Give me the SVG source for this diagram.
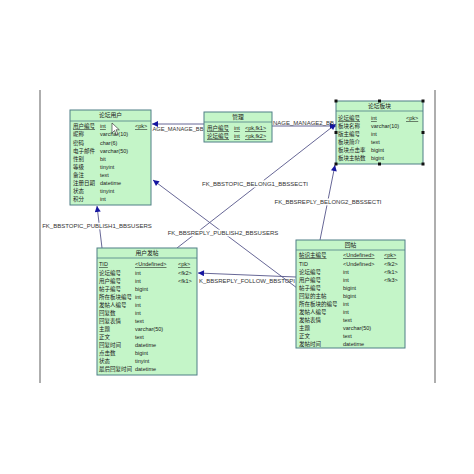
<svg xmlns="http://www.w3.org/2000/svg" width="474" height="474" viewBox="0 0 474 474">
<defs>
<marker id="arr" viewBox="0 0 10 10" refX="10" refY="5" markerWidth="8" markerHeight="6" markerUnits="userSpaceOnUse" orient="auto">
<path d="M0,0 L10,5 L0,10 Z" fill="#1515a0"/>
</marker>
</defs>
<style>
.frame{stroke:#9a9a9a;stroke-width:1.6}
.tbl{fill:#c4f5c8;stroke:#4f7f86;stroke-width:1}
.sep{stroke:#4f7f86;stroke-width:0.8}
.t{font-family:"Liberation Sans","Noto Sans CJK SC",sans-serif;font-size:5.5px;fill:#1a1a1a}
.h{font-family:"Liberation Sans","Noto Sans CJK SC",sans-serif;font-size:5.8px;fill:#1a1a1a;text-anchor:middle}
.u{text-decoration:underline}
.ln{stroke:#56568a;stroke-width:0.9;fill:none}
.lb{font-family:"Liberation Sans",sans-serif;font-size:6px;fill:#333;text-anchor:middle;paint-order:stroke;stroke:#fff;stroke-width:2.5px}
.ls{font-family:"Liberation Sans",sans-serif;font-size:6px;fill:#333}
.hd{fill:#111}
</style>
<rect width="474" height="474" fill="#fff"/>
<line class="frame" x1="40" y1="90" x2="40" y2="383"/>
<line class="frame" x1="435" y1="90" x2="435" y2="383"/>
<g id="connectors">
<line class="ln" x1="204" y1="124" x2="152" y2="124" marker-end="url(#arr)"/>
<text class="ls" x="152.5" y="131" textLength="51" lengthAdjust="spacingAndGlyphs">AGE_MANAGE_BB</text>
<line class="ln" x1="272" y1="126" x2="336" y2="126" marker-end="url(#arr)"/>
<text class="ls" x="273" y="125" textLength="61" lengthAdjust="spacingAndGlyphs">NAGE_MANAGE2_BB</text>
<line class="ln" x1="177" y1="248" x2="336" y2="124" marker-end="url(#arr)"/>
<line class="ln" x1="320" y1="240" x2="335" y2="165" marker-end="url(#arr)"/>
<line class="ln" x1="297" y1="288" x2="153" y2="180" marker-end="url(#arr)"/>
<line class="ln" x1="102" y1="248" x2="97" y2="206" marker-end="url(#arr)"/>
<line class="ln" x1="296" y1="277" x2="198" y2="273" marker-end="url(#arr)"/>
<text class="lb" x="255" y="186">FK_BBSTOPIC_BELONG1_BBSSECTI</text>
<text class="lb" x="328" y="204">FK_BBSREPLY_BELONG2_BBSSECTI</text>
<text class="lb" x="223" y="235">FK_BBSREPLY_PUBLISH2_BBSUSERS</text>
<text class="lb" x="97" y="228">FK_BBSTOPIC_PUBLISH1_BBSUSERS</text>
<text class="ls" x="199" y="283" textLength="96" lengthAdjust="spacingAndGlyphs">K_BBSREPLY_FOLLOW_BBSTOPI</text>
</g>
<g id="users">
<rect class="tbl" x="70" y="110" width="81" height="95"/>
<line class="sep" x1="70" y1="121" x2="151" y2="121"/>
<text class="h" x="110.5" y="117">论坛用户</text>
<text class="t u" x="73" y="128">用户编号</text><text class="t u" x="100" y="128">int</text><text class="t u" x="135" y="128">&lt;pk&gt;</text>
<text class="t" x="73" y="136">昵称</text><text class="t" x="100" y="136">varchar(10)</text>
<text class="t" x="73" y="144.5">密码</text><text class="t" x="100" y="144.5">char(6)</text>
<text class="t" x="73" y="152.5">电子邮件</text><text class="t" x="100" y="152.5">varchar(50)</text>
<text class="t" x="73" y="160.5">性别</text><text class="t" x="100" y="160.5">bit</text>
<text class="t" x="73" y="168.5">等级</text><text class="t" x="100" y="168.5">tinyint</text>
<text class="t" x="73" y="176.5">备注</text><text class="t" x="100" y="176.5">text</text>
<text class="t" x="73" y="184.5">注册日期</text><text class="t" x="100" y="184.5">datetime</text>
<text class="t" x="73" y="192.5">状态</text><text class="t" x="100" y="192.5">tinyint</text>
<text class="t" x="73" y="200.5">积分</text><text class="t" x="100" y="200.5">int</text>
</g>
<g id="manage">
<rect class="tbl" x="204" y="112" width="68" height="30"/>
<line class="sep" x1="204" y1="122" x2="272" y2="122"/>
<text class="h" x="238" y="119">管理</text>
<text class="t u" x="207" y="130">用户编号</text><text class="t u" x="234" y="130">int</text><text class="t u" x="245" y="130">&lt;pk,fk1&gt;</text>
<text class="t u" x="207" y="138">论坛编号</text><text class="t u" x="234" y="138">int</text><text class="t u" x="245" y="138">&lt;pk,fk2&gt;</text>
</g>
<g id="sections">
<rect class="tbl" x="336" y="101" width="87" height="63"/>
<line class="sep" x1="336" y1="111" x2="423" y2="111"/>
<text class="h" x="379.5" y="108">论坛板块</text>
<text class="t u" x="338" y="120">论坛编号</text><text class="t u" x="371" y="120">int</text><text class="t u" x="406" y="120">&lt;pk&gt;</text>
<text class="t" x="338" y="128">板块名称</text><text class="t" x="371" y="128">varchar(10)</text>
<text class="t" x="338" y="135.5">版主编号</text><text class="t" x="371" y="135.5">int</text>
<text class="t" x="338" y="143.5">板块简介</text><text class="t" x="371" y="143.5">text</text>
<text class="t" x="338" y="151.5">板块点击率</text><text class="t" x="371" y="151.5">bigint</text>
<text class="t" x="338" y="159.5">板块主帖数</text><text class="t" x="371" y="159.5">bigint</text>
<rect class="hd" x="334.5" y="99.5" width="3" height="3"/>
<rect class="hd" x="378" y="99.5" width="3" height="3"/>
<rect class="hd" x="421.5" y="99.5" width="3" height="3"/>
<rect class="hd" x="334.5" y="131" width="3" height="3"/>
<rect class="hd" x="421.5" y="131" width="3" height="3"/>
<rect class="hd" x="334.5" y="162.5" width="3" height="3"/>
<rect class="hd" x="378" y="162.5" width="3" height="3"/>
<rect class="hd" x="421.5" y="162.5" width="3" height="3"/>
</g>
<g id="topics">
<rect class="tbl" x="97" y="248" width="100" height="127"/>
<line class="sep" x1="97" y1="258" x2="197" y2="258"/>
<text class="h" x="147" y="255">用户发帖</text>
<text class="t u" x="99" y="266">TID</text><text class="t u" x="135" y="266">&lt;Undefined&gt;</text><text class="t u" x="178" y="266">&lt;pk&gt;</text>
<text class="t" x="99" y="274.5">论坛编号</text><text class="t" x="135" y="274.5">int</text><text class="t" x="178" y="274.5">&lt;fk2&gt;</text>
<text class="t" x="99" y="282.5">用户编号</text><text class="t" x="135" y="282.5">int</text><text class="t" x="178" y="282.5">&lt;fk1&gt;</text>
<text class="t" x="99" y="290.5">帖子编号</text><text class="t" x="135" y="290.5">bigint</text>
<text class="t" x="99" y="298.5">所在板块编号</text><text class="t" x="135" y="298.5">int</text>
<text class="t" x="99" y="306.5">发帖人编号</text><text class="t" x="135" y="306.5">int</text>
<text class="t" x="99" y="314.5">回复数</text><text class="t" x="135" y="314.5">int</text>
<text class="t" x="99" y="322.5">回复表情</text><text class="t" x="135" y="322.5">text</text>
<text class="t" x="99" y="330.5">主题</text><text class="t" x="135" y="330.5">varchar(50)</text>
<text class="t" x="99" y="339">正文</text><text class="t" x="135" y="339">text</text>
<text class="t" x="99" y="347">回复时间</text><text class="t" x="135" y="347">datetime</text>
<text class="t" x="99" y="355">点击数</text><text class="t" x="135" y="355">bigint</text>
<text class="t" x="99" y="363">状态</text><text class="t" x="135" y="363">tinyint</text>
<text class="t" x="99" y="371">最后回复时间</text><text class="t" x="135" y="371">datetime</text>
</g>
<g id="replies">
<rect class="tbl" x="296" y="240" width="109" height="108"/>
<line class="sep" x1="296" y1="250" x2="405" y2="250"/>
<text class="h" x="350.5" y="247">回帖</text>
<text class="t u" x="299" y="257">帖识主编号</text><text class="t u" x="343" y="257">&lt;Undefined&gt;</text><text class="t u" x="384" y="257">&lt;pk&gt;</text>
<text class="t" x="299" y="265.5">TID</text><text class="t" x="343" y="265.5">&lt;Undefined&gt;</text><text class="t" x="384" y="265.5">&lt;fk2&gt;</text>
<text class="t" x="299" y="273.5">论坛编号</text><text class="t" x="343" y="273.5">int</text><text class="t" x="384" y="273.5">&lt;fk1&gt;</text>
<text class="t" x="299" y="281.5">用户编号</text><text class="t" x="343" y="281.5">int</text><text class="t" x="384" y="281.5">&lt;fk3&gt;</text>
<text class="t" x="299" y="289.5">帖子编号</text><text class="t" x="343" y="289.5">bigint</text>
<text class="t" x="299" y="297.5">回复的主帖</text><text class="t" x="343" y="297.5">bigint</text>
<text class="t" x="299" y="305.5">所在板块的编号</text><text class="t" x="343" y="305.5">int</text>
<text class="t" x="299" y="314">发帖人编号</text><text class="t" x="343" y="314">int</text>
<text class="t" x="299" y="322">发帖表情</text><text class="t" x="343" y="322">text</text>
<text class="t" x="299" y="330">主题</text><text class="t" x="343" y="330">varchar(50)</text>
<text class="t" x="299" y="338">正文</text><text class="t" x="343" y="338">text</text>
<text class="t" x="299" y="346">发帖时间</text><text class="t" x="343" y="346">datetime</text>
</g>
<path d="M112,123 L112,133 L114.5,130.5 L116.5,135 L118,134.3 L116,129.8 L119.3,129.8 Z" fill="#fff" stroke="#222" stroke-width="0.6"/>
</svg>
